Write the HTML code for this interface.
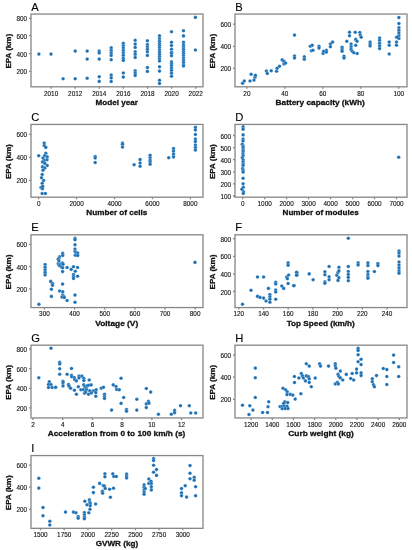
<!DOCTYPE html>
<html><head><meta charset="utf-8"><style>
html,body{margin:0;padding:0;background:#fff;}
svg{display:block;will-change:transform;font-family:"Liberation Sans",sans-serif;}
</style></head><body>
<svg width="412" height="550" viewBox="0 0 412 550">
<g fill="#1a6fb4" stroke="#fff" stroke-width="0.25"><circle cx="38.9" cy="54.1" r="1.8"/><circle cx="51" cy="54.1" r="1.8"/><circle cx="63.1" cy="78.8" r="1.8"/><circle cx="75.2" cy="51.1" r="1.8"/><circle cx="75.2" cy="78.8" r="1.8"/><circle cx="87.2" cy="51.1" r="1.8"/><circle cx="87.2" cy="59.1" r="1.8"/><circle cx="87.2" cy="78.2" r="1.8"/><circle cx="99.2" cy="51.1" r="1.8"/><circle cx="99.2" cy="53" r="1.8"/><circle cx="99.2" cy="59.1" r="1.8"/><circle cx="99.2" cy="76.8" r="1.8"/><circle cx="99.2" cy="81.4" r="1.8"/><circle cx="111.2" cy="47.9" r="1.8"/><circle cx="111.2" cy="50.6" r="1.8"/><circle cx="111.2" cy="53.1" r="1.8"/><circle cx="111.2" cy="55.5" r="1.8"/><circle cx="111.2" cy="59.7" r="1.8"/><circle cx="111.2" cy="75" r="1.8"/><circle cx="111.2" cy="77.9" r="1.8"/><circle cx="111.2" cy="81.5" r="1.8"/><circle cx="123.3" cy="43.3" r="1.8"/><circle cx="123.3" cy="45.7" r="1.8"/><circle cx="123.3" cy="48.1" r="1.8"/><circle cx="123.3" cy="50.6" r="1.8"/><circle cx="123.3" cy="53.1" r="1.8"/><circle cx="123.3" cy="55.5" r="1.8"/><circle cx="123.3" cy="58.3" r="1.8"/><circle cx="123.3" cy="60.4" r="1.8"/><circle cx="123.3" cy="73" r="1.8"/><circle cx="123.3" cy="77.1" r="1.8"/><circle cx="135.2" cy="40.3" r="1.8"/><circle cx="135.2" cy="44.1" r="1.8"/><circle cx="135.2" cy="47.4" r="1.8"/><circle cx="135.2" cy="51.7" r="1.8"/><circle cx="135.2" cy="54.4" r="1.8"/><circle cx="135.2" cy="57.5" r="1.8"/><circle cx="135.2" cy="70.8" r="1.8"/><circle cx="135.2" cy="73" r="1.8"/><circle cx="135.2" cy="75.4" r="1.8"/><circle cx="147.4" cy="40.8" r="1.8"/><circle cx="147.4" cy="44.5" r="1.8"/><circle cx="147.4" cy="46.9" r="1.8"/><circle cx="147.4" cy="49.3" r="1.8"/><circle cx="147.4" cy="51.7" r="1.8"/><circle cx="147.4" cy="55.4" r="1.8"/><circle cx="147.4" cy="67.5" r="1.8"/><circle cx="147.4" cy="71.4" r="1.8"/><circle cx="159.5" cy="35.9" r="1.8"/><circle cx="159.5" cy="38.8" r="1.8"/><circle cx="159.5" cy="41.3" r="1.8"/><circle cx="159.5" cy="43.5" r="1.8"/><circle cx="159.5" cy="45.6" r="1.8"/><circle cx="159.5" cy="47.8" r="1.8"/><circle cx="159.5" cy="50" r="1.8"/><circle cx="159.5" cy="52.2" r="1.8"/><circle cx="159.5" cy="54.4" r="1.8"/><circle cx="159.5" cy="56.6" r="1.8"/><circle cx="159.5" cy="58.7" r="1.8"/><circle cx="159.5" cy="60.9" r="1.8"/><circle cx="159.5" cy="66.7" r="1.8"/><circle cx="159.5" cy="71.1" r="1.8"/><circle cx="159.5" cy="80.3" r="1.8"/><circle cx="159.5" cy="83.5" r="1.8"/><circle cx="171.5" cy="31.8" r="1.8"/><circle cx="171.5" cy="42.3" r="1.8"/><circle cx="171.5" cy="45.6" r="1.8"/><circle cx="171.5" cy="49.3" r="1.8"/><circle cx="171.5" cy="52.2" r="1.8"/><circle cx="171.5" cy="53.6" r="1.8"/><circle cx="171.5" cy="55.8" r="1.8"/><circle cx="171.5" cy="61.7" r="1.8"/><circle cx="171.5" cy="63.5" r="1.8"/><circle cx="171.5" cy="65.6" r="1.8"/><circle cx="171.5" cy="67.9" r="1.8"/><circle cx="171.5" cy="70.4" r="1.8"/><circle cx="171.5" cy="73.3" r="1.8"/><circle cx="171.5" cy="76.2" r="1.8"/><circle cx="183.5" cy="30.7" r="1.8"/><circle cx="183.5" cy="35.9" r="1.8"/><circle cx="183.5" cy="42.3" r="1.8"/><circle cx="183.5" cy="44.9" r="1.8"/><circle cx="183.5" cy="47.1" r="1.8"/><circle cx="183.5" cy="49.3" r="1.8"/><circle cx="183.5" cy="51.5" r="1.8"/><circle cx="183.5" cy="53.6" r="1.8"/><circle cx="183.5" cy="55.8" r="1.8"/><circle cx="183.5" cy="58" r="1.8"/><circle cx="183.5" cy="60.2" r="1.8"/><circle cx="183.5" cy="62.4" r="1.8"/><circle cx="183.5" cy="64.6" r="1.8"/><circle cx="183.5" cy="66" r="1.8"/><circle cx="195.4" cy="17.4" r="1.8"/><circle cx="195.4" cy="50" r="1.8"/></g>
<rect x="31" y="14.05" width="172" height="72.75" fill="none" stroke="#868686" stroke-width="1.3"/>
<path d="M31 71.3h-2.0M31 53.6h-2.0M31 35.7h-2.0M31 18.3h-2.0M51.1 86.8v2.0M75.2 86.8v2.0M99.3 86.8v2.0M123.4 86.8v2.0M147.5 86.8v2.0M171.6 86.8v2.0M195.7 86.8v2.0" stroke="#868686" stroke-width="1.3" fill="none"/>
<g font-size="6.4" fill="#111" stroke="#111" stroke-width="0.12"><text x="27.1" y="74.3" text-anchor="end">200</text><text x="27.1" y="56.6" text-anchor="end">400</text><text x="27.1" y="38.7" text-anchor="end">600</text><text x="27.1" y="21.3" text-anchor="end">800</text><text x="51.1" y="95.6" text-anchor="middle">2010</text><text x="75.2" y="95.6" text-anchor="middle">2012</text><text x="99.3" y="95.6" text-anchor="middle">2014</text><text x="123.4" y="95.6" text-anchor="middle">2016</text><text x="147.5" y="95.6" text-anchor="middle">2018</text><text x="171.6" y="95.6" text-anchor="middle">2020</text><text x="195.7" y="95.6" text-anchor="middle">2022</text></g>
<text x="95.45" y="104.9" textLength="42.46" lengthAdjust="spacingAndGlyphs" font-weight="bold" font-size="8.0" fill="#111" stroke="#111" stroke-width="0.3">Model year</text>
<text transform="translate(11.2 68.62) rotate(-90)" textLength="34.75" lengthAdjust="spacingAndGlyphs" font-weight="bold" font-size="8.0" fill="#111" stroke="#111" stroke-width="0.3">EPA (km)</text>
<text x="31.2" y="10.65" font-size="11.2" fill="#000" stroke="#000" stroke-width="0.12">A</text>
<g fill="#1a6fb4" stroke="#fff" stroke-width="0.25"><circle cx="242.6" cy="83.2" r="1.8"/><circle cx="244.3" cy="81" r="1.8"/><circle cx="250" cy="81" r="1.8"/><circle cx="251.1" cy="74.2" r="1.8"/><circle cx="254" cy="80.1" r="1.8"/><circle cx="255" cy="77.2" r="1.8"/><circle cx="255.4" cy="75.2" r="1.8"/><circle cx="266.4" cy="71.1" r="1.8"/><circle cx="267.3" cy="73.5" r="1.8"/><circle cx="271.2" cy="70.8" r="1.8"/><circle cx="276.6" cy="71.3" r="1.8"/><circle cx="277.1" cy="68.2" r="1.8"/><circle cx="279.5" cy="66.2" r="1.8"/><circle cx="282.2" cy="59.9" r="1.8"/><circle cx="283.9" cy="61.4" r="1.8"/><circle cx="283.9" cy="64" r="1.8"/><circle cx="285.6" cy="63.1" r="1.8"/><circle cx="294.5" cy="35.1" r="1.8"/><circle cx="294.5" cy="56" r="1.8"/><circle cx="294.5" cy="58" r="1.8"/><circle cx="304.3" cy="56.8" r="1.8"/><circle cx="304.3" cy="59.3" r="1.8"/><circle cx="310.3" cy="46.2" r="1.8"/><circle cx="312.2" cy="45.3" r="1.8"/><circle cx="311.4" cy="50.8" r="1.8"/><circle cx="313" cy="50.2" r="1.8"/><circle cx="319" cy="46.2" r="1.8"/><circle cx="319" cy="48.1" r="1.8"/><circle cx="323.1" cy="53.5" r="1.8"/><circle cx="323.6" cy="51.3" r="1.8"/><circle cx="326.4" cy="50.2" r="1.8"/><circle cx="326.4" cy="52.1" r="1.8"/><circle cx="330.4" cy="44" r="1.8"/><circle cx="330.4" cy="46.7" r="1.8"/><circle cx="332.6" cy="42.1" r="1.8"/><circle cx="342.1" cy="47.2" r="1.8"/><circle cx="342.1" cy="49.4" r="1.8"/><circle cx="342.1" cy="51.3" r="1.8"/><circle cx="344" cy="56.2" r="1.8"/><circle cx="344" cy="58.1" r="1.8"/><circle cx="346.8" cy="41.3" r="1.8"/><circle cx="349.5" cy="32.3" r="1.8"/><circle cx="349.5" cy="35.8" r="1.8"/><circle cx="351.1" cy="44" r="1.8"/><circle cx="351.1" cy="46.7" r="1.8"/><circle cx="351.1" cy="49.4" r="1.8"/><circle cx="352.2" cy="51.3" r="1.8"/><circle cx="353.8" cy="52.7" r="1.8"/><circle cx="355.2" cy="32.3" r="1.8"/><circle cx="355.7" cy="39.4" r="1.8"/><circle cx="355.7" cy="45.3" r="1.8"/><circle cx="357.1" cy="53.5" r="1.8"/><circle cx="357.1" cy="41.3" r="1.8"/><circle cx="359.8" cy="32.6" r="1.8"/><circle cx="360.3" cy="35" r="1.8"/><circle cx="361.2" cy="37.2" r="1.8"/><circle cx="370.1" cy="42.1" r="1.8"/><circle cx="370.1" cy="44" r="1.8"/><circle cx="370.1" cy="45.9" r="1.8"/><circle cx="379.6" cy="38" r="1.8"/><circle cx="379.6" cy="40.4" r="1.8"/><circle cx="379.6" cy="43.2" r="1.8"/><circle cx="379.6" cy="45.9" r="1.8"/><circle cx="379.6" cy="48.6" r="1.8"/><circle cx="389.2" cy="42.1" r="1.8"/><circle cx="389.2" cy="45.3" r="1.8"/><circle cx="389.2" cy="54" r="1.8"/><circle cx="396.5" cy="37.2" r="1.8"/><circle cx="396.5" cy="42.1" r="1.8"/><circle cx="396.5" cy="45.3" r="1.8"/><circle cx="398.9" cy="17.6" r="1.8"/><circle cx="398.9" cy="23.6" r="1.8"/><circle cx="398.9" cy="27.7" r="1.8"/><circle cx="398.9" cy="30.4" r="1.8"/><circle cx="398.9" cy="33.1" r="1.8"/><circle cx="398.9" cy="35.8" r="1.8"/><circle cx="398.9" cy="38.5" r="1.8"/><circle cx="397.3" cy="37.2" r="1.8"/></g>
<rect x="235" y="14.05" width="172" height="72.75" fill="none" stroke="#868686" stroke-width="1.3"/>
<path d="M235 68.4h-2.0M235 46.3h-2.0M235 24.2h-2.0M246.9 86.8v2.0M284.88 86.8v2.0M322.86 86.8v2.0M360.84 86.8v2.0M398.82 86.8v2.0" stroke="#868686" stroke-width="1.3" fill="none"/>
<g font-size="6.4" fill="#111" stroke="#111" stroke-width="0.12"><text x="231.1" y="71.4" text-anchor="end">200</text><text x="231.1" y="49.3" text-anchor="end">400</text><text x="231.1" y="27.2" text-anchor="end">600</text><text x="246.9" y="95.6" text-anchor="middle">20</text><text x="284.88" y="95.6" text-anchor="middle">40</text><text x="322.86" y="95.6" text-anchor="middle">60</text><text x="360.84" y="95.6" text-anchor="middle">80</text><text x="398.82" y="95.6" text-anchor="middle">100</text></g>
<text x="275.64" y="104.9" textLength="89.18" lengthAdjust="spacingAndGlyphs" font-weight="bold" font-size="8.0" fill="#111" stroke="#111" stroke-width="0.3">Battery capacity (kWh)</text>
<text transform="translate(215.2 68.62) rotate(-90)" textLength="34.75" lengthAdjust="spacingAndGlyphs" font-weight="bold" font-size="8.0" fill="#111" stroke="#111" stroke-width="0.3">EPA (km)</text>
<text x="235.2" y="10.65" font-size="11.2" fill="#000" stroke="#000" stroke-width="0.12">B</text>
<g fill="#1a6fb4" stroke="#fff" stroke-width="0.25"><circle cx="44.2" cy="143" r="1.8"/><circle cx="44.2" cy="145.6" r="1.8"/><circle cx="45.8" cy="147.4" r="1.8"/><circle cx="38.7" cy="155.7" r="1.8"/><circle cx="45.8" cy="153.3" r="1.8"/><circle cx="44.6" cy="155.7" r="1.8"/><circle cx="47.2" cy="156.9" r="1.8"/><circle cx="43" cy="158" r="1.8"/><circle cx="47" cy="159.8" r="1.8"/><circle cx="44.2" cy="160.4" r="1.8"/><circle cx="42.5" cy="162" r="1.8"/><circle cx="44.8" cy="163.4" r="1.8"/><circle cx="47.2" cy="165.5" r="1.8"/><circle cx="42.5" cy="166.9" r="1.8"/><circle cx="44.8" cy="168.1" r="1.8"/><circle cx="43" cy="170.2" r="1.8"/><circle cx="42.2" cy="174.6" r="1.8"/><circle cx="41.5" cy="177.8" r="1.8"/><circle cx="43.6" cy="180.5" r="1.8"/><circle cx="42.2" cy="183.2" r="1.8"/><circle cx="41" cy="187.6" r="1.8"/><circle cx="42.5" cy="188.8" r="1.8"/><circle cx="42.7" cy="186.4" r="1.8"/><circle cx="42.2" cy="193.5" r="1.8"/><circle cx="45.4" cy="193.5" r="1.8"/><circle cx="95.2" cy="156.6" r="1.8"/><circle cx="95.2" cy="158" r="1.8"/><circle cx="95.2" cy="162.5" r="1.8"/><circle cx="122.5" cy="143" r="1.8"/><circle cx="122.5" cy="144.2" r="1.8"/><circle cx="122.5" cy="147.1" r="1.8"/><circle cx="134.1" cy="164.7" r="1.8"/><circle cx="140.1" cy="159.6" r="1.8"/><circle cx="140.1" cy="163" r="1.8"/><circle cx="140.1" cy="166.2" r="1.8"/><circle cx="150.1" cy="155.3" r="1.8"/><circle cx="150.1" cy="157.7" r="1.8"/><circle cx="150.1" cy="160.2" r="1.8"/><circle cx="150.1" cy="162" r="1.8"/><circle cx="150.1" cy="164.2" r="1.8"/><circle cx="168.7" cy="157.7" r="1.8"/><circle cx="173.5" cy="148.6" r="1.8"/><circle cx="173.5" cy="151.1" r="1.8"/><circle cx="173.5" cy="154.1" r="1.8"/><circle cx="173.5" cy="156.9" r="1.8"/><circle cx="195.4" cy="127.4" r="1.8"/><circle cx="195.4" cy="129.9" r="1.8"/><circle cx="195.4" cy="134.5" r="1.8"/><circle cx="195.4" cy="139.1" r="1.8"/><circle cx="195.4" cy="141.6" r="1.8"/><circle cx="195.4" cy="145.1" r="1.8"/><circle cx="195.4" cy="147.6" r="1.8"/><circle cx="195.4" cy="150.1" r="1.8"/></g>
<rect x="31" y="124.43" width="172" height="72.75" fill="none" stroke="#868686" stroke-width="1.3"/>
<path d="M31 180.4h-2.0M31 157.4h-2.0M31 134.4h-2.0M38.7 197.18v2.0M76.62 197.18v2.0M114.54 197.18v2.0M152.46 197.18v2.0M190.38 197.18v2.0" stroke="#868686" stroke-width="1.3" fill="none"/>
<g font-size="6.4" fill="#111" stroke="#111" stroke-width="0.12"><text x="27.1" y="183.4" text-anchor="end">200</text><text x="27.1" y="160.4" text-anchor="end">400</text><text x="27.1" y="137.4" text-anchor="end">600</text><text x="38.7" y="205.98" text-anchor="middle">0</text><text x="76.62" y="205.98" text-anchor="middle">2000</text><text x="114.54" y="205.98" text-anchor="middle">4000</text><text x="152.46" y="205.98" text-anchor="middle">6000</text><text x="190.38" y="205.98" text-anchor="middle">8000</text></g>
<text x="86.35" y="215.28" textLength="60.99" lengthAdjust="spacingAndGlyphs" font-weight="bold" font-size="8.0" fill="#111" stroke="#111" stroke-width="0.3">Number of cells</text>
<text transform="translate(11.2 179) rotate(-90)" textLength="34.75" lengthAdjust="spacingAndGlyphs" font-weight="bold" font-size="8.0" fill="#111" stroke="#111" stroke-width="0.3">EPA (km)</text>
<text x="31.2" y="121.03" font-size="11.2" fill="#000" stroke="#000" stroke-width="0.12">C</text>
<g fill="#1a6fb4" stroke="#fff" stroke-width="0.25"><circle cx="243.1" cy="126.9" r="1.8"/><circle cx="243.1" cy="129.2" r="1.8"/><circle cx="243.1" cy="134.9" r="1.8"/><circle cx="243.1" cy="139" r="1.8"/><circle cx="243" cy="141" r="1.8"/><circle cx="242.3" cy="144.3" r="1.8"/><circle cx="243.1" cy="146.1" r="1.8"/><circle cx="243.1" cy="147.8" r="1.8"/><circle cx="243.1" cy="149.9" r="1.8"/><circle cx="243.1" cy="151.6" r="1.8"/><circle cx="243" cy="153.7" r="1.8"/><circle cx="243.1" cy="155.7" r="1.8"/><circle cx="242.3" cy="157.8" r="1.8"/><circle cx="243.1" cy="159.9" r="1.8"/><circle cx="243.1" cy="162" r="1.8"/><circle cx="243.1" cy="164.1" r="1.8"/><circle cx="243.1" cy="165.5" r="1.8"/><circle cx="242.6" cy="168.6" r="1.8"/><circle cx="243.1" cy="170.3" r="1.8"/><circle cx="243.1" cy="172.1" r="1.8"/><circle cx="243.1" cy="178.3" r="1.8"/><circle cx="243.1" cy="183.8" r="1.8"/><circle cx="243.3" cy="187.2" r="1.8"/><circle cx="241.9" cy="189.3" r="1.8"/><circle cx="243.5" cy="191.7" r="1.8"/><circle cx="243.3" cy="193.4" r="1.8"/><circle cx="398.7" cy="157.2" r="1.8"/></g>
<rect x="235" y="124.43" width="172" height="72.75" fill="none" stroke="#868686" stroke-width="1.3"/>
<path d="M235 196h-2.0M235 183.9h-2.0M235 171.8h-2.0M235 159.7h-2.0M235 147.6h-2.0M235 135.5h-2.0M242.7 197.18v2.0M264.67 197.18v2.0M286.64 197.18v2.0M308.61 197.18v2.0M330.58 197.18v2.0M352.55 197.18v2.0M374.52 197.18v2.0M396.49 197.18v2.0" stroke="#868686" stroke-width="1.3" fill="none"/>
<g font-size="6.4" fill="#111" stroke="#111" stroke-width="0.12"><text x="231.1" y="199" text-anchor="end">100</text><text x="231.1" y="186.9" text-anchor="end">200</text><text x="231.1" y="174.8" text-anchor="end">300</text><text x="231.1" y="162.7" text-anchor="end">400</text><text x="231.1" y="150.6" text-anchor="end">500</text><text x="231.1" y="138.5" text-anchor="end">600</text><text x="242.7" y="205.98" text-anchor="middle">0</text><text x="264.67" y="205.98" text-anchor="middle">1000</text><text x="286.64" y="205.98" text-anchor="middle">2000</text><text x="308.61" y="205.98" text-anchor="middle">3000</text><text x="330.58" y="205.98" text-anchor="middle">4000</text><text x="352.55" y="205.98" text-anchor="middle">5000</text><text x="374.52" y="205.98" text-anchor="middle">6000</text><text x="396.49" y="205.98" text-anchor="middle">7000</text></g>
<text x="282.55" y="215.28" textLength="76.17" lengthAdjust="spacingAndGlyphs" font-weight="bold" font-size="8.0" fill="#111" stroke="#111" stroke-width="0.3">Number of modules</text>
<text transform="translate(215.2 179) rotate(-90)" textLength="34.75" lengthAdjust="spacingAndGlyphs" font-weight="bold" font-size="8.0" fill="#111" stroke="#111" stroke-width="0.3">EPA (km)</text>
<text x="235.2" y="121.03" font-size="11.2" fill="#000" stroke="#000" stroke-width="0.12">D</text>
<g fill="#1a6fb4" stroke="#fff" stroke-width="0.25"><circle cx="38.9" cy="304.3" r="1.8"/><circle cx="45.1" cy="264.5" r="1.8"/><circle cx="45.1" cy="267.2" r="1.8"/><circle cx="45.1" cy="269.8" r="1.8"/><circle cx="45.1" cy="272.4" r="1.8"/><circle cx="45.1" cy="274.9" r="1.8"/><circle cx="75" cy="238.4" r="1.8"/><circle cx="75" cy="239.8" r="1.8"/><circle cx="75" cy="244.8" r="1.8"/><circle cx="75" cy="249.1" r="1.8"/><circle cx="75" cy="251.4" r="1.8"/><circle cx="75.9" cy="252.5" r="1.8"/><circle cx="77.7" cy="253" r="1.8"/><circle cx="75.3" cy="255.2" r="1.8"/><circle cx="77.7" cy="255.5" r="1.8"/><circle cx="62.7" cy="253.4" r="1.8"/><circle cx="62.7" cy="255.5" r="1.8"/><circle cx="59.6" cy="256.8" r="1.8"/><circle cx="58.9" cy="258.2" r="1.8"/><circle cx="58.2" cy="259.3" r="1.8"/><circle cx="58.9" cy="260.9" r="1.8"/><circle cx="58.2" cy="263.7" r="1.8"/><circle cx="58.9" cy="265" r="1.8"/><circle cx="60.9" cy="263.9" r="1.8"/><circle cx="62.6" cy="263" r="1.8"/><circle cx="63" cy="264.4" r="1.8"/><circle cx="59.8" cy="265.7" r="1.8"/><circle cx="61.6" cy="267.1" r="1.8"/><circle cx="62.6" cy="267.8" r="1.8"/><circle cx="62.6" cy="271.6" r="1.8"/><circle cx="67.1" cy="267.5" r="1.8"/><circle cx="71.2" cy="269.4" r="1.8"/><circle cx="73.5" cy="266.7" r="1.8"/><circle cx="75.3" cy="271.2" r="1.8"/><circle cx="77.6" cy="267.5" r="1.8"/><circle cx="73.5" cy="274.6" r="1.8"/><circle cx="73.5" cy="276.6" r="1.8"/><circle cx="73.5" cy="278.4" r="1.8"/><circle cx="77.6" cy="276.2" r="1.8"/><circle cx="50.7" cy="281.4" r="1.8"/><circle cx="52.5" cy="283.5" r="1.8"/><circle cx="52.5" cy="285.2" r="1.8"/><circle cx="51.4" cy="289.2" r="1.8"/><circle cx="51.4" cy="296.4" r="1.8"/><circle cx="62.6" cy="284.1" r="1.8"/><circle cx="59.6" cy="291" r="1.8"/><circle cx="62.7" cy="291.7" r="1.8"/><circle cx="62.7" cy="295.1" r="1.8"/><circle cx="63.7" cy="296.4" r="1.8"/><circle cx="62" cy="297.1" r="1.8"/><circle cx="64.3" cy="297.5" r="1.8"/><circle cx="67.1" cy="300.5" r="1.8"/><circle cx="75" cy="295.1" r="1.8"/><circle cx="75" cy="302.2" r="1.8"/><circle cx="195" cy="262.4" r="1.8"/></g>
<rect x="31" y="234.81" width="172" height="72.75" fill="none" stroke="#868686" stroke-width="1.3"/>
<path d="M31 288.8h-2.0M31 266.6h-2.0M31 244.4h-2.0M44.45 307.56v2.0M74.59 307.56v2.0M104.73 307.56v2.0M134.87 307.56v2.0M165.01 307.56v2.0M195.15 307.56v2.0" stroke="#868686" stroke-width="1.3" fill="none"/>
<g font-size="6.4" fill="#111" stroke="#111" stroke-width="0.12"><text x="27.1" y="291.8" text-anchor="end">200</text><text x="27.1" y="269.6" text-anchor="end">400</text><text x="27.1" y="247.4" text-anchor="end">600</text><text x="44.45" y="316.36" text-anchor="middle">300</text><text x="74.59" y="316.36" text-anchor="middle">400</text><text x="104.73" y="316.36" text-anchor="middle">500</text><text x="134.87" y="316.36" text-anchor="middle">600</text><text x="165.01" y="316.36" text-anchor="middle">700</text><text x="195.15" y="316.36" text-anchor="middle">800</text></g>
<text x="95.24" y="325.66" textLength="42.99" lengthAdjust="spacingAndGlyphs" font-weight="bold" font-size="8.0" fill="#111" stroke="#111" stroke-width="0.3">Voltage (V)</text>
<text transform="translate(11.2 289.38) rotate(-90)" textLength="34.75" lengthAdjust="spacingAndGlyphs" font-weight="bold" font-size="8.0" fill="#111" stroke="#111" stroke-width="0.3">EPA (km)</text>
<text x="31.2" y="231.41" font-size="11.2" fill="#000" stroke="#000" stroke-width="0.12">E</text>
<g fill="#1a6fb4" stroke="#fff" stroke-width="0.25"><circle cx="242.5" cy="304.2" r="1.8"/><circle cx="251" cy="290.3" r="1.8"/><circle cx="257.5" cy="277" r="1.8"/><circle cx="263.6" cy="277" r="1.8"/><circle cx="257.5" cy="296.4" r="1.8"/><circle cx="260" cy="297.4" r="1.8"/><circle cx="263.6" cy="298.1" r="1.8"/><circle cx="266" cy="301" r="1.8"/><circle cx="268.4" cy="288.4" r="1.8"/><circle cx="269.9" cy="294.5" r="1.8"/><circle cx="269.9" cy="296.9" r="1.8"/><circle cx="269.9" cy="299.3" r="1.8"/><circle cx="269.9" cy="302.2" r="1.8"/><circle cx="275.7" cy="282.3" r="1.8"/><circle cx="275.7" cy="284" r="1.8"/><circle cx="275.7" cy="290.1" r="1.8"/><circle cx="275.7" cy="292" r="1.8"/><circle cx="275.7" cy="299.3" r="1.8"/><circle cx="281.8" cy="286" r="1.8"/><circle cx="283.7" cy="288.4" r="1.8"/><circle cx="286.7" cy="277" r="1.8"/><circle cx="287.4" cy="278.7" r="1.8"/><circle cx="288.1" cy="262.9" r="1.8"/><circle cx="288.1" cy="265.3" r="1.8"/><circle cx="288.6" cy="275" r="1.8"/><circle cx="288.1" cy="283.5" r="1.8"/><circle cx="294.2" cy="285.5" r="1.8"/><circle cx="297.1" cy="272.6" r="1.8"/><circle cx="297.1" cy="275" r="1.8"/><circle cx="293.6" cy="285.7" r="1.8"/><circle cx="296.5" cy="272.4" r="1.8"/><circle cx="296.5" cy="275.3" r="1.8"/><circle cx="309.2" cy="273.9" r="1.8"/><circle cx="313.1" cy="279.8" r="1.8"/><circle cx="324.9" cy="271.8" r="1.8"/><circle cx="324.9" cy="274.7" r="1.8"/><circle cx="324.9" cy="281.9" r="1.8"/><circle cx="324.9" cy="283.3" r="1.8"/><circle cx="329.1" cy="266.5" r="1.8"/><circle cx="329.1" cy="276.8" r="1.8"/><circle cx="329.1" cy="279.8" r="1.8"/><circle cx="336.8" cy="275.3" r="1.8"/><circle cx="338" cy="272.4" r="1.8"/><circle cx="338.9" cy="267.3" r="1.8"/><circle cx="338.9" cy="270.9" r="1.8"/><circle cx="338.9" cy="277.7" r="1.8"/><circle cx="338" cy="280.4" r="1.8"/><circle cx="348.3" cy="238.3" r="1.8"/><circle cx="348.3" cy="266.5" r="1.8"/><circle cx="348.3" cy="271.5" r="1.8"/><circle cx="348.3" cy="274.5" r="1.8"/><circle cx="348.3" cy="277.4" r="1.8"/><circle cx="348.3" cy="280.7" r="1.8"/><circle cx="358.1" cy="262.9" r="1.8"/><circle cx="358.1" cy="265" r="1.8"/><circle cx="367.9" cy="262.9" r="1.8"/><circle cx="367.9" cy="265.6" r="1.8"/><circle cx="367.9" cy="271.5" r="1.8"/><circle cx="367.9" cy="274.5" r="1.8"/><circle cx="367.9" cy="276.8" r="1.8"/><circle cx="367.9" cy="278.3" r="1.8"/><circle cx="374.4" cy="271.5" r="1.8"/><circle cx="377.9" cy="263.5" r="1.8"/><circle cx="377.9" cy="265.6" r="1.8"/><circle cx="399" cy="251.1" r="1.8"/><circle cx="399" cy="253.1" r="1.8"/><circle cx="399" cy="256.1" r="1.8"/><circle cx="399" cy="262" r="1.8"/><circle cx="399" cy="265" r="1.8"/><circle cx="399" cy="267.9" r="1.8"/><circle cx="399" cy="270.9" r="1.8"/><circle cx="399" cy="273.3" r="1.8"/></g>
<rect x="235" y="234.81" width="172" height="72.75" fill="none" stroke="#868686" stroke-width="1.3"/>
<path d="M235 291.5h-2.0M235 273.9h-2.0M235 256.3h-2.0M235 238.7h-2.0M238.8 307.56v2.0M263.5 307.56v2.0M288.2 307.56v2.0M312.9 307.56v2.0M337.6 307.56v2.0M362.3 307.56v2.0M387 307.56v2.0" stroke="#868686" stroke-width="1.3" fill="none"/>
<g font-size="6.4" fill="#111" stroke="#111" stroke-width="0.12"><text x="231.1" y="294.5" text-anchor="end">200</text><text x="231.1" y="276.9" text-anchor="end">400</text><text x="231.1" y="259.3" text-anchor="end">600</text><text x="231.1" y="241.7" text-anchor="end">800</text><text x="238.8" y="316.36" text-anchor="middle">120</text><text x="263.5" y="316.36" text-anchor="middle">140</text><text x="288.2" y="316.36" text-anchor="middle">160</text><text x="312.9" y="316.36" text-anchor="middle">180</text><text x="337.6" y="316.36" text-anchor="middle">200</text><text x="362.3" y="316.36" text-anchor="middle">220</text><text x="387" y="316.36" text-anchor="middle">240</text></g>
<text x="286.7" y="325.66" textLength="68.11" lengthAdjust="spacingAndGlyphs" font-weight="bold" font-size="8.0" fill="#111" stroke="#111" stroke-width="0.3">Top Speed (km/h)</text>
<text transform="translate(215.2 289.38) rotate(-90)" textLength="34.75" lengthAdjust="spacingAndGlyphs" font-weight="bold" font-size="8.0" fill="#111" stroke="#111" stroke-width="0.3">EPA (km)</text>
<text x="235.2" y="231.41" font-size="11.2" fill="#000" stroke="#000" stroke-width="0.12">F</text>
<g fill="#1a6fb4" stroke="#fff" stroke-width="0.25"><circle cx="38.8" cy="377.8" r="1.8"/><circle cx="51" cy="348.2" r="1.8"/><circle cx="49.3" cy="381.7" r="1.8"/><circle cx="48.5" cy="384.6" r="1.8"/><circle cx="48.5" cy="387.5" r="1.8"/><circle cx="51" cy="384.6" r="1.8"/><circle cx="52.2" cy="387.5" r="1.8"/><circle cx="55.3" cy="387.5" r="1.8"/><circle cx="59.7" cy="362.3" r="1.8"/><circle cx="59.7" cy="364" r="1.8"/><circle cx="59.7" cy="368.8" r="1.8"/><circle cx="59.7" cy="374.2" r="1.8"/><circle cx="55.7" cy="387.3" r="1.8"/><circle cx="63" cy="381.2" r="1.8"/><circle cx="63" cy="382.7" r="1.8"/><circle cx="63" cy="385.9" r="1.8"/><circle cx="67.1" cy="374.2" r="1.8"/><circle cx="71.5" cy="368.5" r="1.8"/><circle cx="71.5" cy="375.4" r="1.8"/><circle cx="71.7" cy="376.8" r="1.8"/><circle cx="68.5" cy="384.6" r="1.8"/><circle cx="69.1" cy="386.3" r="1.8"/><circle cx="70.6" cy="388.2" r="1.8"/><circle cx="74.2" cy="377.6" r="1.8"/><circle cx="74.7" cy="379.5" r="1.8"/><circle cx="76.4" cy="380.9" r="1.8"/><circle cx="74.4" cy="390.2" r="1.8"/><circle cx="76.4" cy="394.3" r="1.8"/><circle cx="78.3" cy="386.7" r="1.8"/><circle cx="79" cy="376.1" r="1.8"/><circle cx="79" cy="377.9" r="1.8"/><circle cx="81.9" cy="376.1" r="1.8"/><circle cx="83.8" cy="378.3" r="1.8"/><circle cx="83.8" cy="380.5" r="1.8"/><circle cx="80.9" cy="389.7" r="1.8"/><circle cx="83.4" cy="389.7" r="1.8"/><circle cx="83.7" cy="384.9" r="1.8"/><circle cx="84.9" cy="386.7" r="1.8"/><circle cx="86.3" cy="388.2" r="1.8"/><circle cx="87" cy="385.9" r="1.8"/><circle cx="86.3" cy="390" r="1.8"/><circle cx="89.2" cy="380" r="1.8"/><circle cx="88.5" cy="385.3" r="1.8"/><circle cx="91.1" cy="384.9" r="1.8"/><circle cx="84.6" cy="393.2" r="1.8"/><circle cx="85.6" cy="392.1" r="1.8"/><circle cx="88.5" cy="394.3" r="1.8"/><circle cx="89.7" cy="390.7" r="1.8"/><circle cx="91.4" cy="392.9" r="1.8"/><circle cx="93.2" cy="390.7" r="1.8"/><circle cx="94.6" cy="390.7" r="1.8"/><circle cx="96.2" cy="389.7" r="1.8"/><circle cx="95.8" cy="392.6" r="1.8"/><circle cx="95.8" cy="396.2" r="1.8"/><circle cx="101.3" cy="388.2" r="1.8"/><circle cx="103.5" cy="387.3" r="1.8"/><circle cx="104.5" cy="394.3" r="1.8"/><circle cx="104.5" cy="396.5" r="1.8"/><circle cx="104.5" cy="398.4" r="1.8"/><circle cx="113.2" cy="384.9" r="1.8"/><circle cx="111.6" cy="410.1" r="1.8"/><circle cx="116" cy="386.5" r="1.8"/><circle cx="116.7" cy="389.5" r="1.8"/><circle cx="119.3" cy="389.8" r="1.8"/><circle cx="121.1" cy="378.2" r="1.8"/><circle cx="123.7" cy="397.5" r="1.8"/><circle cx="121.1" cy="403.4" r="1.8"/><circle cx="126.5" cy="409.6" r="1.8"/><circle cx="126.5" cy="411.2" r="1.8"/><circle cx="136.8" cy="399.3" r="1.8"/><circle cx="136.8" cy="410.1" r="1.8"/><circle cx="146.3" cy="388.5" r="1.8"/><circle cx="150.7" cy="392.1" r="1.8"/><circle cx="148.4" cy="401.4" r="1.8"/><circle cx="146.3" cy="403.9" r="1.8"/><circle cx="146.3" cy="407.6" r="1.8"/><circle cx="148.9" cy="403.2" r="1.8"/><circle cx="158.4" cy="414.2" r="1.8"/><circle cx="171.3" cy="414.2" r="1.8"/><circle cx="174.6" cy="410.4" r="1.8"/><circle cx="174.6" cy="412.7" r="1.8"/><circle cx="180.5" cy="405.7" r="1.8"/><circle cx="189.3" cy="405.7" r="1.8"/><circle cx="190.8" cy="413" r="1.8"/><circle cx="195.7" cy="413" r="1.8"/></g>
<rect x="31" y="345.19" width="172" height="72.75" fill="none" stroke="#868686" stroke-width="1.3"/>
<path d="M31 407.9h-2.0M31 388.3h-2.0M31 368.6h-2.0M31 349h-2.0M32.97 417.94v2.0M62.69 417.94v2.0M92.41 417.94v2.0M122.13 417.94v2.0M151.85 417.94v2.0M181.57 417.94v2.0" stroke="#868686" stroke-width="1.3" fill="none"/>
<g font-size="6.4" fill="#111" stroke="#111" stroke-width="0.12"><text x="27.1" y="410.9" text-anchor="end">200</text><text x="27.1" y="391.3" text-anchor="end">400</text><text x="27.1" y="371.6" text-anchor="end">600</text><text x="27.1" y="352" text-anchor="end">800</text><text x="32.97" y="426.74" text-anchor="middle">2</text><text x="62.69" y="426.74" text-anchor="middle">4</text><text x="92.41" y="426.74" text-anchor="middle">6</text><text x="122.13" y="426.74" text-anchor="middle">8</text><text x="151.85" y="426.74" text-anchor="middle">10</text><text x="181.57" y="426.74" text-anchor="middle">12</text></g>
<text x="47.79" y="436.04" textLength="137.51" lengthAdjust="spacingAndGlyphs" font-weight="bold" font-size="8.0" fill="#111" stroke="#111" stroke-width="0.3">Acceleration from 0 to 100 km/h (s)</text>
<text transform="translate(11.2 399.76) rotate(-90)" textLength="34.75" lengthAdjust="spacingAndGlyphs" font-weight="bold" font-size="8.0" fill="#111" stroke="#111" stroke-width="0.3">EPA (km)</text>
<text x="31.2" y="341.79" font-size="11.2" fill="#000" stroke="#000" stroke-width="0.12">G</text>
<g fill="#1a6fb4" stroke="#fff" stroke-width="0.25"><circle cx="242.5" cy="405.2" r="1.8"/><circle cx="249" cy="414.5" r="1.8"/><circle cx="249.8" cy="405.7" r="1.8"/><circle cx="252.9" cy="410.1" r="1.8"/><circle cx="255.3" cy="368.1" r="1.8"/><circle cx="255.3" cy="377.8" r="1.8"/><circle cx="255.3" cy="397.5" r="1.8"/><circle cx="262.6" cy="412.5" r="1.8"/><circle cx="267.5" cy="412.5" r="1.8"/><circle cx="268" cy="406.7" r="1.8"/><circle cx="268.7" cy="401.8" r="1.8"/><circle cx="294.5" cy="382.5" r="1.8"/><circle cx="283" cy="388.2" r="1.8"/><circle cx="285.6" cy="389.8" r="1.8"/><circle cx="287.2" cy="391.7" r="1.8"/><circle cx="287" cy="394.6" r="1.8"/><circle cx="290.3" cy="394.4" r="1.8"/><circle cx="292.8" cy="395.1" r="1.8"/><circle cx="300.9" cy="393.8" r="1.8"/><circle cx="295.2" cy="399.1" r="1.8"/><circle cx="284.8" cy="401.8" r="1.8"/><circle cx="287.7" cy="402.6" r="1.8"/><circle cx="280.1" cy="406.6" r="1.8"/><circle cx="282.3" cy="406.2" r="1.8"/><circle cx="284.5" cy="406.1" r="1.8"/><circle cx="287" cy="406.2" r="1.8"/><circle cx="282.3" cy="408.8" r="1.8"/><circle cx="285.2" cy="408.6" r="1.8"/><circle cx="288" cy="408.6" r="1.8"/><circle cx="283.7" cy="403.3" r="1.8"/><circle cx="294.4" cy="376.5" r="1.8"/><circle cx="298.9" cy="378" r="1.8"/><circle cx="301.3" cy="373.5" r="1.8"/><circle cx="302.4" cy="375.9" r="1.8"/><circle cx="303.3" cy="378" r="1.8"/><circle cx="305.4" cy="380.9" r="1.8"/><circle cx="306.3" cy="375.9" r="1.8"/><circle cx="306.3" cy="363.7" r="1.8"/><circle cx="309.2" cy="366.1" r="1.8"/><circle cx="308.4" cy="376.5" r="1.8"/><circle cx="309.2" cy="378.8" r="1.8"/><circle cx="309.2" cy="382.4" r="1.8"/><circle cx="311.3" cy="386.8" r="1.8"/><circle cx="315.2" cy="378" r="1.8"/><circle cx="319.6" cy="363.7" r="1.8"/><circle cx="320.5" cy="366.1" r="1.8"/><circle cx="328.5" cy="366.1" r="1.8"/><circle cx="335.3" cy="363.7" r="1.8"/><circle cx="335.3" cy="366.1" r="1.8"/><circle cx="335.9" cy="368.2" r="1.8"/><circle cx="335.3" cy="383.9" r="1.8"/><circle cx="337.4" cy="382.4" r="1.8"/><circle cx="338.3" cy="383.9" r="1.8"/><circle cx="338" cy="374.4" r="1.8"/><circle cx="338.9" cy="376.5" r="1.8"/><circle cx="340.3" cy="371.1" r="1.8"/><circle cx="340.3" cy="377.9" r="1.8"/><circle cx="342.7" cy="380" r="1.8"/><circle cx="346.3" cy="374.4" r="1.8"/><circle cx="350.7" cy="378.5" r="1.8"/><circle cx="353.7" cy="380" r="1.8"/><circle cx="352.2" cy="373.5" r="1.8"/><circle cx="356.6" cy="369.1" r="1.8"/><circle cx="356.6" cy="372.9" r="1.8"/><circle cx="358.1" cy="348.3" r="1.8"/><circle cx="358.1" cy="350.4" r="1.8"/><circle cx="358.1" cy="354.8" r="1.8"/><circle cx="358.1" cy="361.7" r="1.8"/><circle cx="361.1" cy="359.3" r="1.8"/><circle cx="361.1" cy="364.6" r="1.8"/><circle cx="361.1" cy="372.9" r="1.8"/><circle cx="361.1" cy="375.6" r="1.8"/><circle cx="372.3" cy="378.8" r="1.8"/><circle cx="372.3" cy="381.8" r="1.8"/><circle cx="373.5" cy="384.7" r="1.8"/><circle cx="374.4" cy="386.8" r="1.8"/><circle cx="376.5" cy="375.6" r="1.8"/><circle cx="383.3" cy="368.5" r="1.8"/><circle cx="386.8" cy="369.6" r="1.8"/><circle cx="386.8" cy="376.5" r="1.8"/><circle cx="386.8" cy="384.5" r="1.8"/><circle cx="393.6" cy="355.1" r="1.8"/><circle cx="393.6" cy="362.5" r="1.8"/><circle cx="398.7" cy="366.7" r="1.8"/><circle cx="398.7" cy="376.5" r="1.8"/></g>
<rect x="235" y="345.19" width="172" height="72.75" fill="none" stroke="#868686" stroke-width="1.3"/>
<path d="M235 399.3h-2.0M235 377.2h-2.0M235 355.1h-2.0M251.1 417.94v2.0M272.27 417.94v2.0M293.44 417.94v2.0M314.61 417.94v2.0M335.78 417.94v2.0M356.95 417.94v2.0M378.12 417.94v2.0M399.29 417.94v2.0" stroke="#868686" stroke-width="1.3" fill="none"/>
<g font-size="6.4" fill="#111" stroke="#111" stroke-width="0.12"><text x="231.1" y="402.3" text-anchor="end">200</text><text x="231.1" y="380.2" text-anchor="end">400</text><text x="231.1" y="358.1" text-anchor="end">600</text><text x="251.1" y="426.74" text-anchor="middle">1200</text><text x="272.27" y="426.74" text-anchor="middle">1400</text><text x="293.44" y="426.74" text-anchor="middle">1600</text><text x="314.61" y="426.74" text-anchor="middle">1800</text><text x="335.78" y="426.74" text-anchor="middle">2000</text><text x="356.95" y="426.74" text-anchor="middle">2200</text><text x="378.12" y="426.74" text-anchor="middle">2400</text><text x="399.29" y="426.74" text-anchor="middle">2600</text></g>
<text x="288.37" y="436.04" textLength="65.45" lengthAdjust="spacingAndGlyphs" font-weight="bold" font-size="8.0" fill="#111" stroke="#111" stroke-width="0.3">Curb weight (kg)</text>
<text transform="translate(215.2 399.76) rotate(-90)" textLength="34.75" lengthAdjust="spacingAndGlyphs" font-weight="bold" font-size="8.0" fill="#111" stroke="#111" stroke-width="0.3">EPA (km)</text>
<text x="235.2" y="341.79" font-size="11.2" fill="#000" stroke="#000" stroke-width="0.12">H</text>
<g fill="#1a6fb4" stroke="#fff" stroke-width="0.25"><circle cx="38.8" cy="478.3" r="1.8"/><circle cx="38.8" cy="488.1" r="1.8"/><circle cx="43" cy="507.5" r="1.8"/><circle cx="43" cy="515.7" r="1.8"/><circle cx="49.8" cy="521.3" r="1.8"/><circle cx="49.8" cy="525" r="1.8"/><circle cx="65.5" cy="512.1" r="1.8"/><circle cx="73.5" cy="512.1" r="1.8"/><circle cx="76" cy="512.8" r="1.8"/><circle cx="78.2" cy="516.5" r="1.8"/><circle cx="78.2" cy="518.2" r="1.8"/><circle cx="99.6" cy="483.4" r="1.8"/><circle cx="103.2" cy="485.6" r="1.8"/><circle cx="104.4" cy="486" r="1.8"/><circle cx="105.2" cy="488.4" r="1.8"/><circle cx="102.4" cy="491.2" r="1.8"/><circle cx="102.6" cy="493.2" r="1.8"/><circle cx="93.4" cy="487.2" r="1.8"/><circle cx="93.4" cy="492.6" r="1.8"/><circle cx="109.6" cy="489.2" r="1.8"/><circle cx="110.4" cy="497.2" r="1.8"/><circle cx="84.8" cy="501.2" r="1.8"/><circle cx="89.4" cy="499.8" r="1.8"/><circle cx="89.8" cy="502" r="1.8"/><circle cx="90.2" cy="503.4" r="1.8"/><circle cx="90.2" cy="505.8" r="1.8"/><circle cx="87" cy="504.8" r="1.8"/><circle cx="95.6" cy="504" r="1.8"/><circle cx="90" cy="509.2" r="1.8"/><circle cx="88.8" cy="512.8" r="1.8"/><circle cx="84.4" cy="512.6" r="1.8"/><circle cx="84.4" cy="514.8" r="1.8"/><circle cx="84.4" cy="517.2" r="1.8"/><circle cx="84.4" cy="518.8" r="1.8"/><circle cx="104.9" cy="473.8" r="1.8"/><circle cx="104.9" cy="476.8" r="1.8"/><circle cx="112.8" cy="473.9" r="1.8"/><circle cx="113.8" cy="476.5" r="1.8"/><circle cx="116.3" cy="476.5" r="1.8"/><circle cx="113.5" cy="488.2" r="1.8"/><circle cx="126.6" cy="474" r="1.8"/><circle cx="126.6" cy="476" r="1.8"/><circle cx="126.6" cy="477.9" r="1.8"/><circle cx="144.1" cy="484.9" r="1.8"/><circle cx="144.1" cy="487.3" r="1.8"/><circle cx="144.1" cy="489.7" r="1.8"/><circle cx="144.1" cy="492.1" r="1.8"/><circle cx="144.1" cy="494.3" r="1.8"/><circle cx="145.3" cy="488.5" r="1.8"/><circle cx="148.8" cy="479" r="1.8"/><circle cx="148.8" cy="483.4" r="1.8"/><circle cx="151" cy="481.2" r="1.8"/><circle cx="151.3" cy="483.6" r="1.8"/><circle cx="151.3" cy="486.7" r="1.8"/><circle cx="151.3" cy="489.9" r="1.8"/><circle cx="153.6" cy="458.6" r="1.8"/><circle cx="153.6" cy="460.5" r="1.8"/><circle cx="153.6" cy="465.2" r="1.8"/><circle cx="153.6" cy="472.2" r="1.8"/><circle cx="156.5" cy="469.6" r="1.8"/><circle cx="156.5" cy="475.4" r="1.8"/><circle cx="181.5" cy="488.6" r="1.8"/><circle cx="181.5" cy="492.9" r="1.8"/><circle cx="181.5" cy="495.7" r="1.8"/><circle cx="185.2" cy="485.8" r="1.8"/><circle cx="186.6" cy="497.1" r="1.8"/><circle cx="190" cy="465.6" r="1.8"/><circle cx="190" cy="473.2" r="1.8"/><circle cx="190" cy="478.8" r="1.8"/><circle cx="194.2" cy="477.4" r="1.8"/><circle cx="194.2" cy="480.2" r="1.8"/><circle cx="195.6" cy="486.7" r="1.8"/><circle cx="195.6" cy="495.7" r="1.8"/></g>
<rect x="31" y="455.57" width="172" height="72.75" fill="none" stroke="#868686" stroke-width="1.3"/>
<path d="M31 509.3h-2.0M31 487.2h-2.0M31 465.1h-2.0M40.5 528.32v2.0M64.22 528.32v2.0M87.94 528.32v2.0M111.66 528.32v2.0M135.38 528.32v2.0M159.1 528.32v2.0M182.82 528.32v2.0" stroke="#868686" stroke-width="1.3" fill="none"/>
<g font-size="6.4" fill="#111" stroke="#111" stroke-width="0.12"><text x="27.1" y="512.3" text-anchor="end">200</text><text x="27.1" y="490.2" text-anchor="end">400</text><text x="27.1" y="468.1" text-anchor="end">600</text><text x="40.5" y="537.12" text-anchor="middle">1500</text><text x="64.22" y="537.12" text-anchor="middle">1750</text><text x="87.94" y="537.12" text-anchor="middle">2000</text><text x="111.66" y="537.12" text-anchor="middle">2250</text><text x="135.38" y="537.12" text-anchor="middle">2500</text><text x="159.1" y="537.12" text-anchor="middle">2750</text><text x="182.82" y="537.12" text-anchor="middle">3000</text></g>
<text x="95.68" y="546.42" textLength="42.43" lengthAdjust="spacingAndGlyphs" font-weight="bold" font-size="8.0" fill="#111" stroke="#111" stroke-width="0.3">GVWR (kg)</text>
<text transform="translate(11.2 510.14) rotate(-90)" textLength="34.75" lengthAdjust="spacingAndGlyphs" font-weight="bold" font-size="8.0" fill="#111" stroke="#111" stroke-width="0.3">EPA (km)</text>
<text x="31.2" y="452.17" font-size="11.2" fill="#000" stroke="#000" stroke-width="0.12">I</text>
</svg>
</body></html>
